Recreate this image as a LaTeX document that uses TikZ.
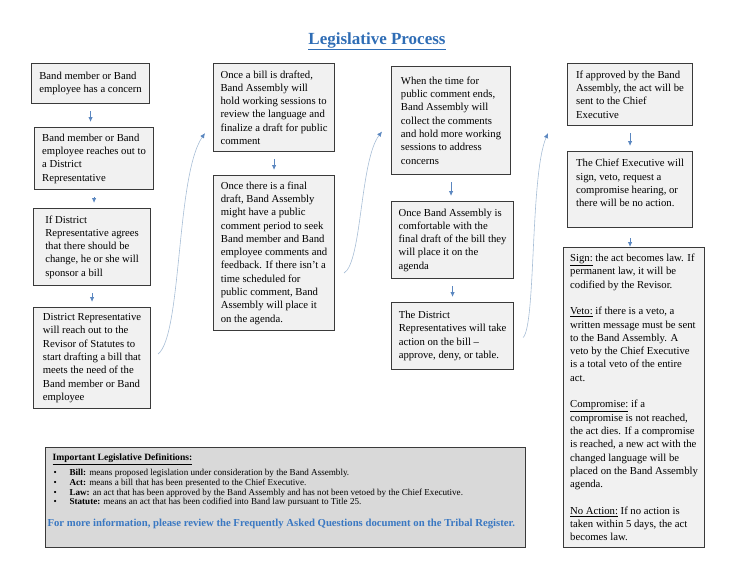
\documentclass[tikz,border=0pt]{standalone}
\usepackage{fontspec}
\setmainfont{Liberation Serif}
\usetikzlibrary{arrows.meta}
\definecolor{boxfill}{HTML}{F1F1F1}
\definecolor{deffill}{HTML}{D9D9D9}
\definecolor{boxline}{HTML}{3A3A3A}
\definecolor{flowblue}{HTML}{5B87C0}
\definecolor{linkblue}{HTML}{A8BED6}
\definecolor{titleblue}{HTML}{2F6DB5}
\definecolor{infoblue}{HTML}{3A78C2}
\begin{document}
\begin{tikzpicture}[x=1pt,y=-1pt,
    box/.style={draw=boxline, line width=1.1pt, fill=boxfill, align=left,
        anchor=north west, inner sep=0pt, font=\fontsize{10.7}{13.3}\selectfont},
    defbox/.style={draw=boxline, line width=1.1pt, fill=deffill,
        anchor=north west, inner xsep=2pt, inner ysep=6pt},
    flow/.style={draw=flowblue, line width=0.8pt, -{Latex[length=5pt,width=4.5pt]},
        shorten <=7pt, shorten >=5pt},
    link/.style={draw=linkblue, line width=0.6pt,
        -{Latex[length=5pt,width=4.5pt,color=flowblue]}}]
    \useasboundingbox (0,0) rectangle (750,578);

    % title
    \node[font=\fontsize{17}{19}\selectfont\bfseries, text=titleblue] (title) at (377,41)
        {\underline{Legislative Process}};

    % first column
    \node[box, minimum width=118, minimum height=40] (concern) at (31,63)
        {Band member or Band\\employee has a concern};
    \node[box, minimum width=119, minimum height=62] (reach) at (34,127)
        {Band member or Band\\employee reaches out to\\a District\\Representative};
    \node[box, minimum width=117, minimum height=77] (sponsor) at (33,208)
        {If District\\Representative agrees\\that there should be\\change, he or she will\\sponsor a bill};
    \node[box, minimum width=117, minimum height=101] (revisor) at (33,307)
        {District Representative\\will reach out to the\\Revisor of Statutes to\\start drafting a bill that\\meets the need of the\\Band member or Band\\employee};

    % second column
    \node[box, minimum width=121, minimum height=88] (drafted) at (213,63)
        {Once a bill is drafted,\\Band Assembly will\\hold working sessions to\\review the language and\\finalize a draft for public\\comment};
    \node[box, minimum width=121, minimum height=155] (period) at (213,175)
        {Once there is a final\\draft, Band Assembly\\might have a public\\comment period to seek\\Band member and Band\\employee comments and\\feedback. If there isn’t a\\time scheduled for\\public comment, Band\\Assembly will place it\\on the agenda.};

    % third column
    \node[box, minimum width=119, minimum height=108] (collect) at (391,66)
        {When the time for\\public comment ends,\\Band Assembly will\\collect the comments\\and hold more working\\sessions to address\\concerns};
    \node[box, minimum width=122, minimum height=77] (agenda) at (391,201)
        {Once Band Assembly is\\comfortable with the\\final draft of the bill they\\will place it on the\\agenda};
    \node[box, minimum width=122, minimum height=67] (action) at (391,302)
        {The District\\Representatives will take\\action on the bill –\\approve, deny, or table.};

    % fourth column
    \node[box, minimum width=125, minimum height=62] (approved) at (567,63)
        {If approved by the Band\\Assembly, the act will be\\sent to the Chief\\Executive};
    \node[box, minimum width=125, minimum height=76] (chief) at (567,151)
        {The Chief Executive will\\sign, veto, request a\\compromise hearing, or\\there will be no action.\\ \mbox{}};
    \node[box, minimum width=141, minimum height=300] (outcome) at (563,247)
        {\underline{Sign:} the act becomes law. If\\permanent law, it will be\\codified by the Revisor.\\[13.3pt]
         \underline{Veto:} if there is a veto, a\\written message must be sent\\to the Band Assembly. A\\veto by the Chief Executive\\is a total veto of the entire\\act.\\[13.3pt]
         \underline{Compromise:} if a\\compromise is not reached,\\the act dies. If a compromise\\is reached, a new act with the\\changed language will be\\placed on the Band Assembly\\agenda.\\[13.3pt]
         \underline{No Action:} If no action is\\taken within 5 days, the act\\becomes law.};

    % definitions
    \node[defbox] (defs) at (45,447) {\parbox[c][88pt][t]{476pt}{\fontsize{9.1}{9.7}\selectfont
        \hspace*{5pt}{\fontsize{9.6}{9.7}\selectfont\textbf{\underline{Important Legislative Definitions:}}}\\[4pt]
        \hspace*{6pt}\makebox[16pt][l]{\textbullet}\textbf{Bill:} means proposed legislation under consideration by the Band Assembly.\\
        \hspace*{6pt}\makebox[16pt][l]{\textbullet}\textbf{Act:} means a bill that has been presented to the Chief Executive.\\
        \hspace*{6pt}\makebox[16pt][l]{\textbullet}\textbf{Law:} an act that has been approved by the Band Assembly and has not been vetoed by the Chief Executive.\\
        \hspace*{6pt}\makebox[16pt][l]{\textbullet}\textbf{Statute:} means an act that has been codified into Band law pursuant to Title 25.\\[12pt]
        {\fontsize{10.7}{12}\selectfont\bfseries\color{infoblue}For more information, please review the Frequently Asked Questions document on the Tribal Register.}}};

    % arrows down the columns
    \draw[flow] (concern.south) -- (concern.south |- reach.north);
    \draw[flow] (reach.south) -- (reach.south |- sponsor.north);
    \draw[flow] (sponsor.south) -- (sponsor.south |- revisor.north);
    \draw[flow] (drafted.south) -- (drafted.south |- period.north);
    \draw[flow] (collect.south) -- (collect.south |- agenda.north);
    \draw[flow] (agenda.south) -- (agenda.south |- action.north);
    \draw[flow] (approved.south) -- (approved.south |- chief.north);
    \draw[flow, shorten <=10pt, shorten >=0pt] (chief.south) -- (chief.south |- outcome.north);

    % links between the columns
    \draw[link] ([shift={(7,-4)}]revisor.east) .. controls (182,335) and (176,175) .. ([shift={(-8,-19)}]drafted.south west);
    \draw[link] ([shift={(9,20)}]period.east) .. controls (362,262) and (360,160) .. ([shift={(-9,11)}]collect.west);
    \draw[link] ([shift={(9,1.5)}]action.east) .. controls (536,325) and (530,175) .. ([shift={(-19,7)}]approved.south west);
\end{tikzpicture}
\end{document}
